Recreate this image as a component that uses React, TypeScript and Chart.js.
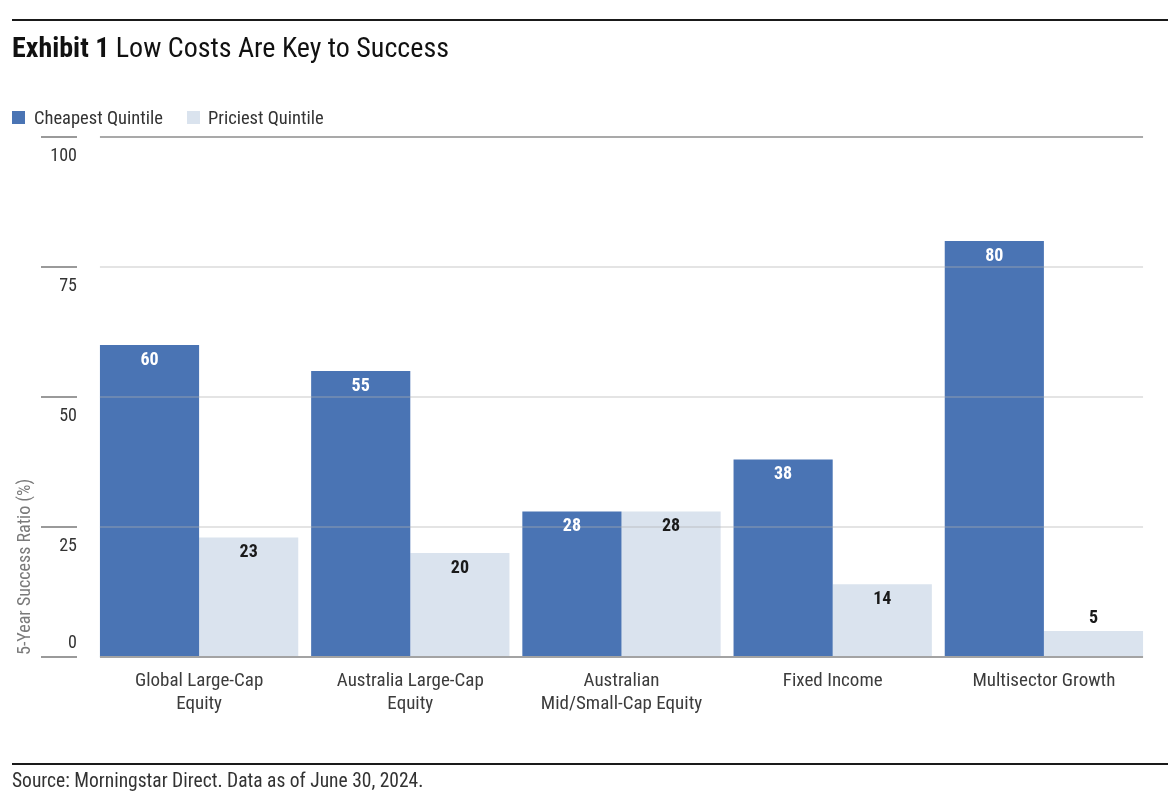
import React, { useEffect, useRef } from "react";
import { Chart, registerables } from "chart.js";

Chart.register(...registerables);

// ---- data ----
const categories: string[][] = [
  ["Global Large-Cap", "Equity"],
  ["Australia Large-Cap", "Equity"],
  ["Australian", "Mid/Small-Cap Equity"],
  ["Fixed Income"],
  ["Multisector Growth"],
];
const seriesNames = ["Cheapest Quintile", "Priciest Quintile"];
const cheapest = [60, 55, 28, 38, 80];
const priciest = [23, 20, 28, 14, 5];
const yTicks = [0, 25, 50, 75, 100];
const yTitle = "5-Year Success Ratio (%)";
const titleBold = "Exhibit 1";
const titleRest = " Low Costs Are Key to Success";
const sourceText = "Source: Morningstar Direct. Data as of June 30, 2024.";

// ---- style ----
const BLUE = "#4a74b4";
const LIGHT = "#dae3ee";
const FONT =
  '"Liberation Sans Narrow", "Arial Narrow", "Roboto Condensed", "DejaVu Sans Condensed", sans-serif';

const overlayPlugin = {
  id: "overlay",
  afterDatasetsDraw(chart: any) {
    const ctx = chart.ctx as CanvasRenderingContext2D;
    const y = chart.scales.y;
    const m0 = chart.getDatasetMeta(0);
    const m1 = chart.getDatasetMeta(1);
    const first = m0.data[0] as any;
    const last = m1.data[m1.data.length - 1] as any;
    const x0 = first.x - first.width / 2;
    const x1 = last.x + last.width / 2;

    // gridlines (drawn over bars)
    yTicks.forEach((v) => {
      const py = y.getPixelForValue(v);
      ctx.save();
      ctx.beginPath();
      if (v === 0) {
        ctx.strokeStyle = "#a3a3a3";
        ctx.lineWidth = 2;
      } else if (v === 100) {
        ctx.strokeStyle = "#8c8c8c";
        ctx.lineWidth = 1.5;
      } else {
        ctx.strokeStyle = "rgba(175,175,175,0.45)";
        ctx.lineWidth = 1.5;
      }
      ctx.moveTo(x0, py);
      ctx.lineTo(x1, py);
      ctx.stroke();
      ctx.restore();

      // tick mark + label at left
      ctx.save();
      ctx.beginPath();
      ctx.strokeStyle = "#9a9a9a";
      ctx.lineWidth = 2;
      ctx.moveTo(41, py);
      ctx.lineTo(77, py);
      ctx.stroke();
      ctx.fillStyle = "#333";
      ctx.font = `18px ${FONT}`;
      ctx.textAlign = "right";
      ctx.textBaseline = "alphabetic";
      if (v === 0) ctx.fillText(String(v), 77, py - 9);
      else ctx.fillText(String(v), 77, py + 24);
      ctx.restore();
    });

    // data labels
    chart.data.datasets.forEach((ds: any, di: number) => {
      const meta = chart.getDatasetMeta(di);
      meta.data.forEach((bar: any, i: number) => {
        const v = ds.data[i];
        const h = bar.base - bar.y;
        const inside = h > 30;
        ctx.save();
        ctx.font = `bold 18px ${FONT}`;
        ctx.textAlign = "center";
        ctx.textBaseline = "middle";
        ctx.fillStyle = di === 0 && inside ? "#ffffff" : "#1a1a1a";
        ctx.fillText(String(v), bar.x, inside ? bar.y + 15 : bar.y - 13);
        ctx.restore();
      });
    });

    // y axis title
    ctx.save();
    ctx.translate(25, y.getPixelForValue(0) - 2);
    ctx.rotate(-Math.PI / 2);
    ctx.font = `18px ${FONT}`;
    ctx.fillStyle = "#7a7a7a";
    ctx.textAlign = "left";
    ctx.textBaseline = "middle";
    ctx.fillText(yTitle, 0, 0);
    ctx.restore();
  },
};

export default function App() {
  const canvasRef = useRef<HTMLCanvasElement | null>(null);

  useEffect(() => {
    document.body.style.margin = "0";
    const canvas = canvasRef.current;
    if (!canvas) return;
    const chart = new Chart(canvas, {
      type: "bar",
      data: {
        labels: categories,
        datasets: [
          {
            label: seriesNames[0],
            data: cheapest,
            backgroundColor: BLUE,
            borderWidth: 0,
            categoryPercentage: 0.939,
            barPercentage: 1.0,
          },
          {
            label: seriesNames[1],
            data: priciest,
            backgroundColor: LIGHT,
            borderWidth: 0,
            categoryPercentage: 0.939,
            barPercentage: 1.0,
          },
        ],
      },
      options: {
        animation: false,
        responsive: false,
        maintainAspectRatio: false,
        events: [],
        layout: { padding: { left: 93.5, right: 25.5, top: 137, bottom: 0 } },
        plugins: {
          legend: { display: false },
          tooltip: { enabled: false },
          title: { display: false },
        },
        scales: {
          x: {
            grid: { display: false, drawTicks: false },
            border: { display: false },
            ticks: {
              padding: 12,
              color: "#3c3c3c",
              font: { family: FONT, size: 19, lineHeight: 1.25 },
              maxRotation: 0,
              autoSkip: false,
            },
            afterFit(scale: any) {
              scale.height = 139;
            },
          },
          y: {
            display: false,
            min: 0,
            max: 100,
          },
        },
      },
      plugins: [overlayPlugin],
    });
    return () => chart.destroy();
  }, []);

  const abs = (s: React.CSSProperties): React.CSSProperties => ({
    position: "absolute",
    whiteSpace: "nowrap",
    fontFamily: FONT,
    ...s,
  });

  return (
    <div style={{ position: "relative", width: 1175, height: 796, background: "#fff", overflow: "hidden" }}>
      <canvas ref={canvasRef} width={1175} height={796} style={{ position: "absolute", left: 0, top: 0, width: 1175, height: 796 }} />
      <div style={abs({ left: 12, top: 19, width: 1156, height: 2, background: "#1a1a1a" })} />
      <div style={abs({ left: 12, top: 34, fontSize: 28, lineHeight: "28px", color: "#111" })}>
        <span style={{ fontWeight: "bold" }}>{titleBold}</span>
        <span>{titleRest}</span>
      </div>
      <div style={abs({ left: 12, top: 111, width: 13, height: 13, background: BLUE })} />
      <div style={abs({ left: 34, top: 108, fontSize: 18.5, lineHeight: "20px", color: "#333" })}>{seriesNames[0]}</div>
      <div style={abs({ left: 187, top: 111, width: 13, height: 13, background: LIGHT })} />
      <div style={abs({ left: 208, top: 108, fontSize: 18.5, lineHeight: "20px", color: "#333" })}>{seriesNames[1]}</div>
      <div style={abs({ left: 12, top: 763, width: 1156, height: 1.5, background: "#1a1a1a" })} />
      <div style={abs({ left: 12, top: 769.5, fontSize: 19.5, lineHeight: "21px", color: "#333" })}>{sourceText}</div>
    </div>
  );
}
